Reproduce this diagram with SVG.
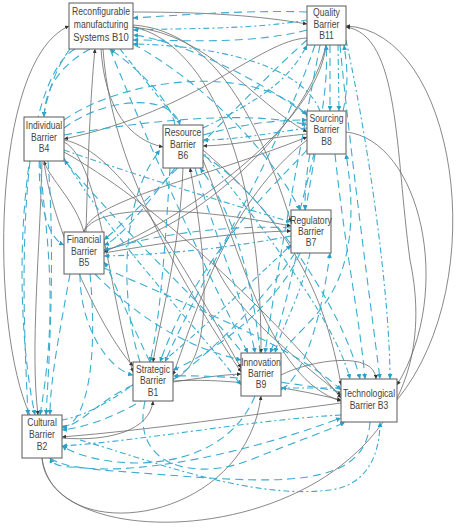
<svg xmlns="http://www.w3.org/2000/svg" width="474" height="530" viewBox="0 0 474 530">
<style>
.s{fill:none;stroke:#6a6a6a;stroke-width:0.8;marker-end:url(#ag)}
.d{fill:none;stroke:#3aadd0;stroke-width:1.1;stroke-dasharray:8 5;marker-end:url(#ac)}
.dd{fill:none;stroke:#3aadd0;stroke-width:1.1;stroke-dasharray:6 3 2 3;marker-end:url(#ac)}
.node rect{fill:#fff;stroke:#5a5a5a;stroke-width:1}
.node text{font-family:"Liberation Sans",Arial,sans-serif;font-size:10.5px;fill:#444;text-anchor:middle}
</style>
<defs>
<marker id="ag" viewBox="0 0 6 6" refX="6" refY="3" markerWidth="4" markerHeight="4" orient="auto" markerUnits="userSpaceOnUse"><path d="M0,0L6,3L0,6z" fill="#333"/></marker>
<marker id="ac" viewBox="0 0 6 6" refX="6" refY="3" markerWidth="5" markerHeight="5" orient="auto" markerUnits="userSpaceOnUse"><path d="M0,0L6,3L0,6z" fill="#2aa0c8"/></marker>
</defs>
<rect width="474" height="530" fill="#fff"/>
<g id="connectors">
<!-- solid -->
<path class="s" d="M30,415 C-10,330 -10,60 69,26"/>
<path class="s" d="M133,12 C210,12 260,16 307,24"/>
<path class="s" d="M397,400 C495,280 455,30 346,26"/>
<path class="s" d="M42,458 C50,575 470,545 410,260 C395,150 400,35 346,27"/>
<path class="s" d="M346,132 C420,140 455,290 397,385"/>
<path class="s" d="M101,49 C105,110 130,140 163,147"/>
<path class="s" d="M103,49 C110,150 160,250 241,372"/>
<path class="s" d="M133,25 C200,30 250,90 291,222"/>
<path class="s" d="M133,27 C210,35 250,100 307,132"/>
<path class="s" d="M326,45 C310,120 200,230 104,250"/>
<path class="s" d="M326,45 C320,110 220,200 104,252"/>
<path class="s" d="M307,38 C260,40 200,110 64,139"/>
<path class="s" d="M307,134 C270,137 240,145 203,146"/>
<path class="s" d="M104,253 C180,240 240,232 291,231"/>
<path class="s" d="M84,232 C90,200 200,180 307,137"/>
<path class="s" d="M84,232 C95,205 180,205 291,226"/>
<path class="s" d="M84,232 C75,200 50,180 44,161"/>
<path class="s" d="M86,232 C88,160 90,100 95,49"/>
<path class="s" d="M64,140 C120,150 180,260 241,368"/>
<path class="s" d="M64,142 C100,160 110,300 133,372"/>
<path class="s" d="M44,161 C50,220 100,330 133,366"/>
<path class="s" d="M173,381 C220,378 280,385 341,400"/>
<path class="s" d="M173,379 C205,370 215,300 190,168"/>
<path class="s" d="M203,160 C240,250 270,380 341,401"/>
<path class="s" d="M341,403 C250,415 150,430 62,437"/>
<path class="s" d="M62,438 C110,442 150,430 153,401"/>
<path class="s" d="M173,382 C200,378 220,375 241,374"/>
<path class="s" d="M281,375 C310,360 375,350 376,379"/>
<path class="s" d="M42,458 C55,550 245,525 261,396"/>
<path class="s" d="M183,168 C180,250 160,320 153,362"/>
<path class="s" d="M133,27 C200,40 262,150 261,353"/>
<path class="s" d="M213,260 C230,300 260,330 341,395"/>
<path class="s" d="M307,140 C230,200 200,300 173,375"/>
<path class="s" d="M42,161 C40,250 30,350 38,415"/>
<path class="s" d="M203,150 C260,200 320,260 341,385"/>
<path class="s" d="M64,152 C150,200 260,300 341,398"/>
<!-- cyan -->
<path class="d" d="M307,12 C250,10 180,15 133,18"/>
<path class="dd" d="M307,20 C250,30 180,28 133,30"/>
<path class="d" d="M307,30 C250,45 180,40 133,40"/>
<path class="d" d="M307,115 C260,80 180,40 133,35"/>
<path class="dd" d="M320,111 C300,60 200,45 133,44"/>
<path class="d" d="M330,45 L330,111"/>
<path class="dd" d="M338,45 L339,111"/>
<path class="d" d="M343,111 C350,80 346,60 344,45"/>
<path class="d" d="M340,45 C350,150 370,300 380,379"/>
<path class="dd" d="M346,40 C370,150 390,300 390,379"/>
<path class="d" d="M315,154 C300,250 280,330 270,353"/>
<path class="d" d="M335,154 C345,250 360,320 365,379"/>
<path class="d" d="M310,154 C305,180 305,200 305,210"/>
<path class="d" d="M90,49 C70,60 45,80 44,117"/>
<path class="d" d="M75,49 C20,80 10,300 35,415"/>
<path class="d" d="M30,161 C20,250 25,350 28,415"/>
<path class="d" d="M40,161 C45,230 60,300 40,415"/>
<path class="d" d="M48,161 C55,250 50,350 46,415"/>
<path class="d" d="M175,125 C170,100 140,70 110,49"/>
<path class="d" d="M64,128 C100,100 170,90 180,125"/>
<path class="d" d="M64,120 C120,80 250,60 307,115"/>
<path class="d" d="M64,135 C150,120 250,110 307,125"/>
<path class="d" d="M203,135 C240,125 270,120 307,120"/>
<path class="dd" d="M307,128 C260,135 230,140 203,140"/>
<path class="d" d="M203,155 C260,190 340,300 360,379"/>
<path class="d" d="M170,168 C165,250 160,320 150,362"/>
<path class="d" d="M195,168 C220,250 250,320 255,353"/>
<path class="d" d="M175,168 C150,200 120,240 104,245"/>
<path class="d" d="M291,228 C250,225 170,230 104,250"/>
<path class="dd" d="M291,236 C220,250 150,255 104,256"/>
<path class="d" d="M300,253 C280,300 220,350 173,370"/>
<path class="dd" d="M310,253 C300,300 280,330 275,353"/>
<path class="d" d="M295,253 C250,320 150,420 62,430"/>
<path class="dd" d="M64,150 C150,180 250,210 291,222"/>
<path class="d" d="M70,274 C60,330 50,380 50,415"/>
<path class="d" d="M80,274 C80,330 110,370 133,375"/>
<path class="d" d="M95,274 C150,330 200,350 241,360"/>
<path class="d" d="M104,268 C200,310 300,350 341,390"/>
<path class="d" d="M90,274 C100,380 80,430 62,426"/>
<path class="d" d="M70,49 C30,100 30,230 64,245"/>
<path class="d" d="M133,385 C100,400 80,425 62,428"/>
<path class="d" d="M307,150 C280,180 200,250 160,362"/>
<path class="d" d="M341,392 C280,380 220,375 173,376"/>
<path class="dd" d="M341,388 L281,388"/>
<path class="d" d="M255,396 C220,480 100,470 62,446"/>
<path class="dd" d="M341,415 C250,420 150,440 62,446"/>
<path class="d" d="M370,422 C365,500 250,480 100,470 C70,465 55,470 50,458"/>
<path class="dd" d="M80,440 C150,460 250,500 330,490 C370,485 380,450 380,422"/>
<path class="d" d="M307,40 C250,90 150,200 104,240"/>
<path class="d" d="M315,45 C280,150 200,280 165,362"/>
<path class="d" d="M320,45 C300,150 280,250 265,353"/>
<path class="d" d="M133,44 C200,80 270,150 300,210"/>
<path class="dd" d="M120,49 C200,150 330,300 350,379"/>
<path class="d" d="M110,49 C150,150 220,300 248,353"/>
<path class="d" d="M145,401 C130,470 200,480 250,460 C300,440 330,430 345,422"/>
<path class="d" d="M50,458 C80,480 200,470 341,418"/>
<path class="dd" d="M64,158 C120,250 200,330 241,385"/>
<path class="d" d="M281,390 C300,380 320,330 330,253"/>
<path class="d" d="M260,353 C255,300 240,220 200,168"/>
<path class="d" d="M150,362 C120,300 110,270 104,262"/>
<path class="dd" d="M62,420 C120,410 200,330 291,245"/>
<path class="d" d="M283,353 C300,320 370,300 346,154"/>
<path class="d" d="M300,210 C310,170 330,100 326,45"/>
<path class="d" d="M140,362 C120,300 120,200 160,150"/>
<path class="dd" d="M203,128 C260,100 290,80 307,45"/>
<path class="d" d="M240,350 C200,300 140,250 64,160"/>
</g>
<g id="B10" class="node"><rect x="69" y="3" width="64" height="46"/>
<text transform="translate(101 0) scale(0.82 1)"><tspan x="0" y="15">Reconfigurable</tspan><tspan x="0" y="28">manufacturing</tspan><tspan x="0" y="41" font-size="11.5">Systems  B10</tspan></text></g>
<g id="B11" class="node"><rect x="307" y="6" width="39" height="39"/>
<text transform="translate(326.5 0) scale(0.82 1)"><tspan x="0" y="16">Quality</tspan><tspan x="0" y="28">Barrier</tspan><tspan x="0" y="39">B11</tspan></text></g>
<g id="B4" class="node"><rect x="24" y="117" width="40" height="44"/>
<text transform="translate(44 0) scale(0.82 1)"><tspan x="0" y="129">Individual</tspan><tspan x="0" y="141">Barrier</tspan><tspan x="0" y="152">B4</tspan></text></g>
<g id="B6" class="node"><rect x="163" y="125" width="40" height="43"/>
<text transform="translate(183 0) scale(0.82 1)"><tspan x="0" y="136">Resource</tspan><tspan x="0" y="148">Barrier</tspan><tspan x="0" y="159">B6</tspan></text></g>
<g id="B8" class="node"><rect x="307" y="111" width="39" height="43"/>
<text transform="translate(326.5 0) scale(0.82 1)"><tspan x="0" y="122">Sourcing</tspan><tspan x="0" y="133">Barrier</tspan><tspan x="0" y="145">B8</tspan></text></g>
<g id="B5" class="node"><rect x="64" y="232" width="40" height="42"/>
<text transform="translate(84 0) scale(0.82 1)"><tspan x="0" y="243">Financial</tspan><tspan x="0" y="255">Barrier</tspan><tspan x="0" y="266">B5</tspan></text></g>
<g id="B7" class="node"><rect x="291" y="210" width="40" height="43"/>
<text transform="translate(311 0) scale(0.82 1)"><tspan x="0" y="224">Regulatory</tspan><tspan x="0" y="235">Barrier</tspan><tspan x="0" y="246">B7</tspan></text></g>
<g id="B1" class="node"><rect x="133" y="362" width="40" height="39"/>
<text transform="translate(153 0) scale(0.82 1)"><tspan x="0" y="373">Strategic</tspan><tspan x="0" y="384">Barrier</tspan><tspan x="0" y="396">B1</tspan></text></g>
<g id="B9" class="node"><rect x="241" y="353" width="40" height="43"/>
<text transform="translate(261 0) scale(0.82 1)"><tspan x="0" y="366">Innovation</tspan><tspan x="0" y="377">Barrier</tspan><tspan x="0" y="388">B9</tspan></text></g>
<g id="B3" class="node"><rect x="341" y="379" width="56" height="43"/>
<text transform="translate(369 0) scale(0.82 1)"><tspan x="0" y="397">Technological</tspan><tspan x="0" y="409">Barrier B3</tspan></text></g>
<g id="B2" class="node"><rect x="22" y="415" width="40" height="43"/>
<text transform="translate(42 0) scale(0.82 1)"><tspan x="0" y="426">Cultural</tspan><tspan x="0" y="438">Barrier</tspan><tspan x="0" y="450">B2</tspan></text></g>
</svg>
